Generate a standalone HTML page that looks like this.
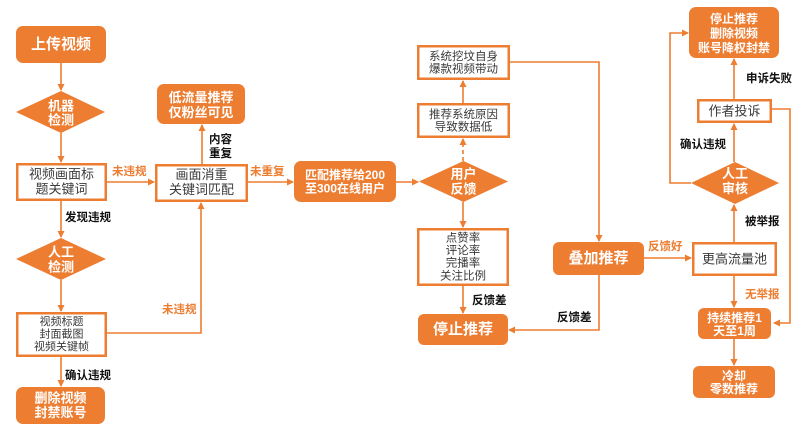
<!DOCTYPE html>
<html><head><meta charset="utf-8">
<style>
html,body{margin:0;padding:0;background:#fff;}
svg{display:block;}
text{font-family:"Liberation Sans","Noto Sans CJK SC",sans-serif;dominant-baseline:central;text-anchor:middle;}
.w{fill:#fff;font-weight:bold;}
.d{fill:#3a3a3a;}
.k{fill:#111;font-weight:bold;font-size:11.5px;text-anchor:start;}
.o{fill:#ED7D31;font-weight:bold;font-size:11.5px;text-anchor:start;}
.f{fill:#ED7D31;}
.b{fill:#fff;stroke:#ED7D31;stroke-width:2.5;}
.l{fill:none;stroke:#ED7D31;stroke-width:1.6;}
.a{fill:#ED7D31;}
</style></head>
<body>
<svg width="800" height="431" viewBox="0 0 800 431" xmlns="http://www.w3.org/2000/svg">
<!-- connectors -->
<polyline class="l" points="61,63 61,90"/><polygon class="a" points="57.5,84 64.5,84 61,91"/>
<polyline class="l" points="61,133 61,162"/><polygon class="a" points="57.5,156 64.5,156 61,163"/>
<polyline class="l" points="107,182 154,182"/><polygon class="a" points="148,178.5 148,185.5 155,182"/>
<polyline class="l" points="61,201 61,237"/><polygon class="a" points="57.5,231 64.5,231 61,238"/>
<polyline class="l" points="61,280 61,311"/><polygon class="a" points="57.5,305 64.5,305 61,312"/>
<polyline class="l" points="61,357 61,386"/><polygon class="a" points="57.5,380 64.5,380 61,387"/>
<polyline class="l" points="107,333 201,333 201,203"/><polygon class="a" points="197.5,209 204.5,209 201,202"/>
<polyline class="l" points="202,164 202,125"/><polygon class="a" points="198.5,131 205.5,131 202,124"/>
<polyline class="l" points="248,182 293,182"/><polygon class="a" points="287,178.5 287,185.5 294,182"/>
<polyline class="l" points="396,182 418,182"/><polygon class="a" points="412,178.5 412,185.5 419,182"/>
<polyline class="l" points="463,161 463,139" stroke-dasharray="4,3"/><polygon class="a" points="459.5,145 466.5,145 463,138"/>
<polyline class="l" points="463,103 463,81"/><polygon class="a" points="459.5,87 466.5,87 463,80"/>
<polyline class="l" points="510,62 599,62 599,241"/><polygon class="a" points="595.5,235 602.5,235 599,242"/>
<polyline class="l" points="463,202 463,227"/><polygon class="a" points="459.5,221 466.5,221 463,228"/>
<polyline class="l" points="463,286 463,313"/><polygon class="a" points="459.5,307 466.5,307 463,314"/>
<polyline class="l" points="599,275 599,330 509,330"/><polygon class="a" points="515,326.5 515,333.5 508,330"/>
<polyline class="l" points="644,258 691,258"/><polygon class="a" points="685,254.5 685,261.5 692,258"/>
<polyline class="l" points="734,242 734,205"/><polygon class="a" points="730.5,211 737.5,211 734,204"/>
<polyline class="l" points="734,162 734,124"/><polygon class="a" points="730.5,130 737.5,130 734,123"/>
<polyline class="l" points="734,99 734,59"/><polygon class="a" points="730.5,65 737.5,65 734,58"/>
<polyline class="l" points="691,183 670,183 670,33 688,33"/><polygon class="a" points="682,29.5 682,36.5 689,33"/>
<polyline class="l" points="772,109 790,109 790,323 774,323"/><polygon class="a" points="780,319.5 780,326.5 773,323"/>
<polyline class="l" points="734,276 734,307"/><polygon class="a" points="730.5,301 737.5,301 734,308"/>
<polyline class="l" points="734,339 734,365"/><polygon class="a" points="730.5,359 737.5,359 734,366"/>

<!-- filled rounded rects -->
<rect class="f" x="16" y="26" width="90" height="37" rx="7"/>
<text class="w" x="61" y="44.5" font-size="15">上传视频</text>

<rect class="f" x="157" y="84" width="88" height="40" rx="7"/>
<text class="w" x="201" y="97.5" font-size="13">低流量推荐</text>
<text class="w" x="201" y="112.5" font-size="13">仅粉丝可见</text>

<rect class="f" x="16" y="387" width="89" height="37" rx="7"/>
<text class="w" x="60.5" y="398" font-size="13">删除视频</text>
<text class="w" x="60.5" y="412.5" font-size="13">封禁账号</text>

<rect class="f" x="294" y="161" width="102" height="41" rx="7"/>
<text class="w" x="345" y="175" font-size="12">匹配推荐给200</text>
<text class="w" x="345" y="188.5" font-size="12">至300在线用户</text>

<rect class="f" x="418" y="314" width="90" height="31" rx="6"/>
<text class="w" x="463" y="329.5" font-size="15">停止推荐</text>

<rect class="f" x="553" y="242" width="91" height="33" rx="6"/>
<text class="w" x="598.5" y="258.5" font-size="15">叠加推荐</text>

<rect class="f" x="689" y="7" width="90" height="51" rx="7"/>
<text class="w" x="734" y="19" font-size="12">停止推荐</text>
<text class="w" x="734" y="33.5" font-size="12">删除视频</text>
<text class="w" x="734" y="48" font-size="12">账号降权封禁</text>

<rect class="f" x="698" y="308" width="73" height="31" rx="6"/>
<text class="w" x="734.5" y="318" font-size="12">持续推荐1</text>
<text class="w" x="734.5" y="331" font-size="12">天至1周</text>

<rect class="f" x="693" y="366" width="82" height="32" rx="6"/>
<text class="w" x="734" y="376" font-size="12">冷却</text>
<text class="w" x="734" y="389" font-size="12">零数推荐</text>

<!-- diamonds -->
<polygon class="f" points="61,91 105,112 61,133 16,112"/>
<text class="w" x="61" y="106" font-size="13">机器</text>
<text class="w" x="61" y="120" font-size="13">检测</text>

<polygon class="f" points="61,238 106,259 61,280 16,259"/>
<text class="w" x="61" y="252" font-size="13">人工</text>
<text class="w" x="61" y="267" font-size="13">检测</text>

<polygon class="f" points="463.5,161 508,181.5 463.5,202 419,181.5"/>
<text class="w" x="463.5" y="174" font-size="13">用户</text>
<text class="w" x="463.5" y="189" font-size="13">反馈</text>

<polygon class="f" points="735,162 779,183 735,204 691,183"/>
<text class="w" x="735" y="173.5" font-size="13">人工</text>
<text class="w" x="735" y="188.5" font-size="13">审核</text>

<!-- outlined boxes -->
<rect class="b" x="17.25" y="164.25" width="88.5" height="35.5"/>
<text class="d" x="61.5" y="174" font-size="13">视频画面标</text>
<text class="d" x="61.5" y="189" font-size="13">题关键词</text>

<rect class="b" x="156.25" y="165.25" width="90.5" height="35.5"/>
<text class="d" x="201.5" y="174.5" font-size="13">画面消重</text>
<text class="d" x="201.5" y="189.5" font-size="13">关键词匹配</text>

<rect class="b" x="17.25" y="313.25" width="88.5" height="42.5"/>
<text class="d" x="61.5" y="322" font-size="11">视频标题</text>
<text class="d" x="61.5" y="334.5" font-size="11">封面截图</text>
<text class="d" x="61.5" y="347" font-size="11">视频关键帧</text>

<rect class="b" x="418.25" y="104.25" width="90.5" height="32.5"/>
<text class="d" x="463.5" y="115" font-size="11.5">推荐系统原因</text>
<text class="d" x="463.5" y="127.5" font-size="11.5">导致数据低</text>

<rect class="b" x="418.25" y="46.25" width="90.5" height="32.5"/>
<text class="d" x="463.5" y="57" font-size="11.5">系统挖坟自身</text>
<text class="d" x="463.5" y="69.5" font-size="11.5">爆款视频带动</text>

<rect class="b" x="418.25" y="229.25" width="89.5" height="55.5"/>
<text class="d" x="463" y="238.5" font-size="11.5">点赞率</text>
<text class="d" x="463" y="251" font-size="11.5">评论率</text>
<text class="d" x="463" y="263.5" font-size="11.5">完播率</text>
<text class="d" x="463" y="276.5" font-size="11.5">关注比例</text>

<rect class="b" x="698.25" y="100.25" width="72.5" height="21.5"/>
<text class="d" x="734.5" y="111" font-size="13">作者投诉</text>

<rect class="b" x="693.25" y="243.25" width="82.5" height="31.5"/>
<text class="d" x="734.5" y="259" font-size="13">更高流量池</text>

<!-- labels -->
<text class="o" x="112" y="172">未违规</text>
<text class="k" x="65" y="218">发现违规</text>
<text class="o" x="162" y="310">未违规</text>
<text class="k" x="65" y="376">确认违规</text>
<text class="k" x="209" y="140">内容</text>
<text class="k" x="209" y="154">重复</text>
<text class="o" x="250" y="172">未重复</text>
<text class="k" x="472" y="301">反馈差</text>
<text class="k" x="557" y="318">反馈差</text>
<text class="o" x="648" y="247">反馈好</text>
<text class="k" x="745" y="222">被举报</text>
<text class="k" x="680" y="145">确认违规</text>
<text class="k" x="746" y="79">申诉失败</text>
<text class="o" x="745" y="295">无举报</text>
</svg>
</body></html>
